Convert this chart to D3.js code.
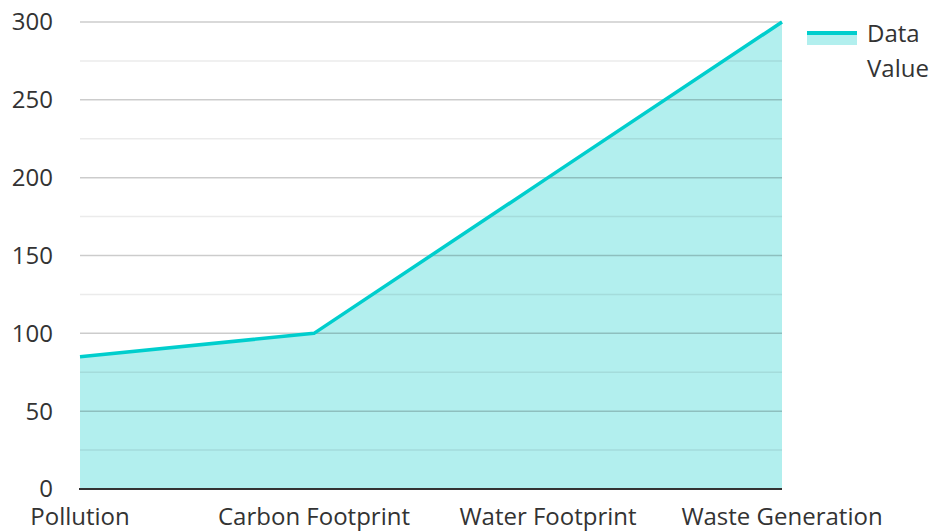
<!DOCTYPE html>
<html>
<head>
<meta charset="utf-8">
<script src="https://cdn.jsdelivr.net/npm/d3@7"></script>
<style>
  body { margin: 0; background: #fff; }
  svg text { font-family: "Open Sans", "Noto Sans", sans-serif; fill: #333; }
</style>
</head>
<body>
<script>

// Chart data.
var categories = ['Pollution', 'Carbon Footprint', 'Water Footprint', 'Waste Generation'];
var values = [85, 100, 200, 300];
var yTicks = [0, 50, 100, 150, 200, 250, 300];
var yMinorTicks = [25, 75, 125, 175, 225, 275];
var seriesName = ['Data', 'Value'];

var width = 931, height = 531;
var margin = { top: 22, right: 149, bottom: 42, left: 80 };
var plotW = width - margin.left - margin.right;
var plotH = height - margin.top - margin.bottom;

var svg = d3.select('body').append('svg')
  .attr('width', width)
  .attr('height', height);

var g = svg.append('g')
  .attr('transform', 'translate(' + margin.left + ',' + margin.top + ')');

// Scales.
var x = d3.scalePoint().domain(categories).range([0, plotW]);
var y = d3.scaleLinear().domain([0, 300]).range([plotH, 0]);

var data = categories.map(function(c, i) { return { cat: c, val: values[i] }; });

// Area fill.
var area = d3.area()
  .x(function(d) { return x(d.cat); })
  .y0(y(0))
  .y1(function(d) { return y(d.val); });

g.append('path')
  .datum(data)
  .attr('d', area)
  .attr('fill', '#b2efee');

// Grid lines (over the fill).
g.selectAll('.minor').data(yMinorTicks).enter().append('line')
  .attr('x1', 0).attr('x2', plotW)
  .attr('y1', function(d) { return y(d); })
  .attr('y2', function(d) { return y(d); })
  .attr('stroke', '#000').attr('stroke-opacity', 0.08)
  .attr('stroke-width', 1.5);

g.selectAll('.major').data(yTicks.slice(1)).enter().append('line')
  .attr('x1', 0).attr('x2', plotW)
  .attr('y1', function(d) { return y(d); })
  .attr('y2', function(d) { return y(d); })
  .attr('stroke', '#000').attr('stroke-opacity', 0.2)
  .attr('stroke-width', 1.5);

// Line.
var line = d3.line()
  .x(function(d) { return x(d.cat); })
  .y(function(d) { return y(d.val); });

g.append('path')
  .datum(data)
  .attr('d', line)
  .attr('fill', 'none')
  .attr('stroke', '#00cecd')
  .attr('stroke-width', 3.5)
  .attr('stroke-linejoin', 'round');

// Baseline.
g.append('line')
  .attr('x1', -1).attr('x2', plotW)
  .attr('y1', y(0)).attr('y2', y(0))
  .attr('stroke', '#333').attr('stroke-width', 2);

// Y labels.
g.selectAll('.ylab').data(yTicks).enter().append('text')
  .attr('x', -27)
  .attr('y', function(d) { return y(d); })
  .attr('dy', '0.35em')
  .attr('text-anchor', 'end')
  .attr('font-size', 24)
  .text(function(d) { return d; });

// X labels.
g.selectAll('.xlab').data(categories).enter().append('text')
  .attr('x', function(d) { return x(d); })
  .attr('y', plotH + 36)
  .attr('text-anchor', 'middle')
  .attr('font-size', 24)
  .text(function(d) { return d; });

// Legend.
var legend = svg.append('g').attr('transform', 'translate(807,33)');
legend.append('rect')
  .attr('x', 0).attr('y', 1).attr('width', 50).attr('height', 11)
  .attr('fill', '#b2efee');
legend.append('line')
  .attr('x1', 0).attr('x2', 50).attr('y1', 0).attr('y2', 0)
  .attr('stroke', '#00cecd').attr('stroke-width', 4);
legend.selectAll('text').data(seriesName).enter().append('text')
  .attr('x', 60)
  .attr('y', function(d, i) { return 9 + i * 35; })
  .attr('font-size', 24)
  .text(function(d) { return d; });

</script>
</body>
</html>
